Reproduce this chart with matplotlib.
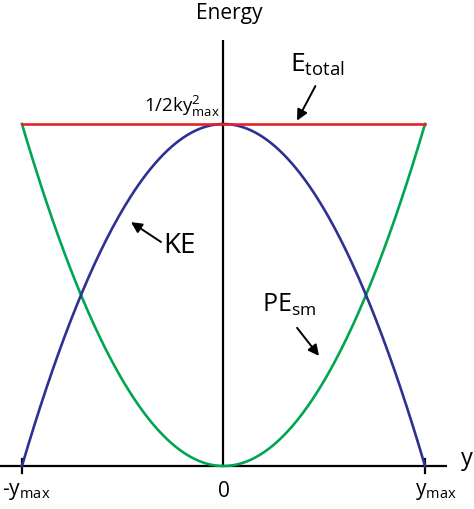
import numpy as np
import matplotlib
matplotlib.use("Agg")
import matplotlib.pyplot as plt

plt.rcParams['font.family'] = ['Open Sans', 'DejaVu Sans']
plt.rcParams['mathtext.fontset'] = 'custom'
plt.rcParams['mathtext.rm'] = 'Open Sans'
plt.rcParams['mathtext.it'] = 'Open Sans'

# displacement, in units of y_max
y = np.linspace(-1, 1, 201)
# energies in units of 1/2 k y_max^2
pe_sm = y ** 2
ke = 1 - y ** 2
e_total = np.ones_like(y)

tick_pos = [-1, 0, 1]
tick_labels = [r'-y$_{\mathrm{max}}$', '0', r'y$_{\mathrm{max}}$']
tick_shift = [-0.099, 0.0, -0.05]   # left edge of label relative to tick
tick_ha = ['left', 'center', 'left']

RED = '#e3232c'
BLUE = '#2e3192'
GREEN = '#00a651'

fig = plt.figure(figsize=(4.74, 5.09), dpi=100)
ax = fig.add_axes([0, 0, 1, 1])
ax.set_xlim(-1.109, 1.243)
ax.set_ylim(-0.1257, 1.3626)
ax.axis('off')

# axes
ax.plot([-1.109, 1.109], [0, 0], color='black', lw=1.6, solid_capstyle='butt')
ax.plot([0, 0], [0, 1.245], color='black', lw=1.6, solid_capstyle='butt')
for t in [-1, 1]:
    ax.plot([t, t], [-0.02, 0.02], color='black', lw=1.6)

# curves
ax.plot(y, pe_sm, color=GREEN, lw=1.9)
ax.plot(y, ke, color=BLUE, lw=1.9)
ax.plot(y, e_total, color=RED, lw=1.9)

# tick labels
for t, lab, dx, ha in zip(tick_pos, tick_labels, tick_shift, tick_ha):
    ax.text(t + dx, -0.045, lab, ha=ha, va='top', fontsize=15)
ax.text(1.18, 0.02, 'y', ha='left', va='center', fontsize=17)
ax.text(0.03, 1.323, 'Energy', ha='center', va='center', fontsize=15)

# labels and arrows
ax.text(-0.02, 1.035, r'1/2ky$^{2}_{\mathrm{max}}$', ha='right', va='baseline', fontsize=13.5)
ax.text(0.33, 1.152, r'E$_{\mathrm{total}}$', ha='left', va='baseline', fontsize=19)
ax.text(-0.30, 0.643, 'KE', ha='left', va='center', fontsize=20)
ax.text(0.19, 0.45, r'PE$_{\mathrm{sm}}$', ha='left', va='baseline', fontsize=18)

arrow = dict(arrowstyle='-|>', lw=1.4, color='black', mutation_scale=16, shrinkA=0, shrinkB=0)
ax.annotate('', xy=(0.365, 1.01), xytext=(0.456, 1.111), arrowprops=arrow)
ax.annotate('', xy=(-0.459, 0.713), xytext=(-0.31, 0.655), arrowprops=arrow)
ax.annotate('', xy=(0.474, 0.322), xytext=(0.365, 0.404), arrowprops=arrow)

fig.savefig('out.png', dpi=100)
